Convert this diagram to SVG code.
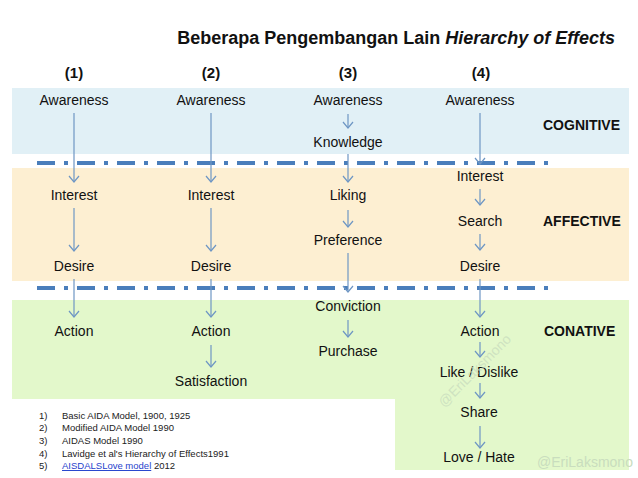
<svg xmlns="http://www.w3.org/2000/svg" width="638" height="478" viewBox="0 0 638 478">
<defs>
<style>
.t{font-family:"Liberation Sans",Arial,sans-serif;font-size:14px;fill:#111;text-anchor:middle}
.h{font-family:"Liberation Sans",Arial,sans-serif;font-size:15px;font-weight:bold;fill:#111;text-anchor:middle}
.lab{font-family:"Liberation Sans",Arial,sans-serif;font-size:14px;font-weight:bold;fill:#111}
.li{font-family:"Liberation Sans",Arial,sans-serif;font-size:9.5px;fill:#222}
.c{stroke:#6E96C4;stroke-width:1.2;fill:none;marker-end:url(#ah)}
.dd{stroke:#4A7EBB;stroke-width:4;stroke-dasharray:18 9 4 9;fill:none}
.wm{font-family:"Liberation Sans",Arial,sans-serif;font-size:14px;fill:#C9DDBE}
</style>
<marker id="ah" markerWidth="12" markerHeight="12" refX="9" refY="6" orient="auto" markerUnits="userSpaceOnUse" viewBox="0 0 12 12">
<path d="M3,1 L9,6 L3,11" fill="none" stroke="#6E96C4" stroke-width="1.2"/>
</marker>
</defs>
<rect width="638" height="478" fill="#fff"/>
<g id="bands">
<rect x="12" y="88" width="617" height="66" fill="#E1F0F6"/>
<rect x="12" y="168" width="617" height="113" fill="#FDEFD2"/>
<path d="M12,300 H629 V470 H395 V399 H12 Z" fill="#E3F8CB"/>
</g>
<g id="title">
<text x="615" y="44" text-anchor="end" font-family="'Liberation Sans',Arial,sans-serif" font-size="18" font-weight="bold" fill="#111">Beberapa Pengembangan Lain <tspan font-style="italic">Hierarchy of Effects</tspan></text>
</g>
<g id="headers">
<text class="h" x="74" y="78">(1)</text>
<text class="h" x="211" y="78">(2)</text>
<text class="h" x="348" y="78">(3)</text>
<text class="h" x="481" y="78">(4)</text>
</g>
<g id="labels">
<text class="lab" x="543" y="130">COGNITIVE</text>
<text class="lab" x="543" y="226">AFFECTIVE</text>
<text class="lab" x="544" y="336">CONATIVE</text>
</g>
<g id="dividers">
<line class="dd" x1="37" y1="163" x2="557" y2="163"/>
<line class="dd" x1="37" y1="288" x2="557" y2="288"/>
</g>
<g id="connectors">
<line class="c" x1="74" y1="113" x2="74" y2="182"/>
<line class="c" x1="74" y1="208" x2="74" y2="251"/>
<line class="c" x1="74" y1="279" x2="74" y2="317"/>
<line class="c" x1="211" y1="113" x2="211" y2="182"/>
<line class="c" x1="211" y1="208" x2="211" y2="251"/>
<line class="c" x1="211" y1="279" x2="211" y2="317"/>
<line class="c" x1="211" y1="345" x2="211" y2="367"/>
<line class="c" x1="348" y1="114" x2="348" y2="128"/>
<line class="c" x1="348" y1="154" x2="348" y2="182"/>
<line class="c" x1="348" y1="210" x2="348" y2="227"/>
<line class="c" x1="348" y1="253" x2="348" y2="292"/>
<line class="c" x1="348" y1="320" x2="348" y2="337"/>
<line class="c" x1="480" y1="113" x2="480" y2="164"/>
<line class="c" x1="480" y1="189" x2="480" y2="205"/>
<line class="c" x1="480" y1="234" x2="480" y2="250"/>
<line class="c" x1="480" y1="279" x2="480" y2="317"/>
<line class="c" x1="480" y1="342" x2="480" y2="357"/>
<line class="c" x1="480" y1="383" x2="480" y2="398"/>
<line class="c" x1="480" y1="426" x2="480" y2="448"/>
</g>
<g id="n1-awareness"><text class="t" x="74" y="105">Awareness</text></g>
<g id="n1-interest"><text class="t" x="74" y="200">Interest</text></g>
<g id="n1-desire"><text class="t" x="74" y="271">Desire</text></g>
<g id="n1-action"><text class="t" x="74" y="336">Action</text></g>
<g id="n2-awareness"><text class="t" x="211" y="105">Awareness</text></g>
<g id="n2-interest"><text class="t" x="211" y="200">Interest</text></g>
<g id="n2-desire"><text class="t" x="211" y="271">Desire</text></g>
<g id="n2-action"><text class="t" x="211" y="336">Action</text></g>
<g id="n2-satisfaction"><text class="t" x="211" y="386">Satisfaction</text></g>
<g id="n3-awareness"><text class="t" x="348" y="105">Awareness</text></g>
<g id="n3-knowledge"><text class="t" x="348" y="147">Knowledge</text></g>
<g id="n3-liking"><text class="t" x="348" y="200">Liking</text></g>
<g id="n3-preference"><text class="t" x="348" y="245">Preference</text></g>
<g id="n3-conviction"><text class="t" x="348" y="311">Conviction</text></g>
<g id="n3-purchase"><text class="t" x="348" y="356">Purchase</text></g>
<g id="n4-awareness"><text class="t" x="480" y="105">Awareness</text></g>
<g id="n4-interest"><text class="t" x="480" y="181">Interest</text></g>
<g id="n4-search"><text class="t" x="480" y="226">Search</text></g>
<g id="n4-desire"><text class="t" x="480" y="271">Desire</text></g>
<g id="n4-action"><text class="t" x="480" y="336">Action</text></g>
<g id="n4-like"><text class="t" x="479" y="377">Like / Dislike</text></g>
<g id="n4-share"><text class="t" x="479" y="417">Share</text></g>
<g id="n4-love"><text class="t" x="479" y="462">Love / Hate</text></g>
<g id="watermarks">
<text class="wm" x="0" y="0" text-anchor="middle" transform="translate(478,374) rotate(-45)" fill-opacity="0.8">@EriLaksmono</text>
<text class="wm" x="537" y="467">@EriLaksmono</text>
</g>
<g id="legend">
<text class="li" x="39" y="419">1)</text><text class="li" x="62" y="419">Basic AIDA Model, 1900, 1925</text>
<text class="li" x="39" y="431">2)</text><text class="li" x="62" y="431">Modified AIDA Model 1990</text>
<text class="li" x="39" y="444">3)</text><text class="li" x="62" y="444">AIDAS Model 1990</text>
<text class="li" x="39" y="457">4)</text><text class="li" x="62" y="457">Lavidge et al's Hierarchy of Effects1991</text>
<text class="li" x="39" y="469">5)</text><text class="li" x="62" y="469"><tspan fill="#1F3FCC" text-decoration="underline">AISDALSLove model</tspan> 2012</text>
</g>
</svg>
